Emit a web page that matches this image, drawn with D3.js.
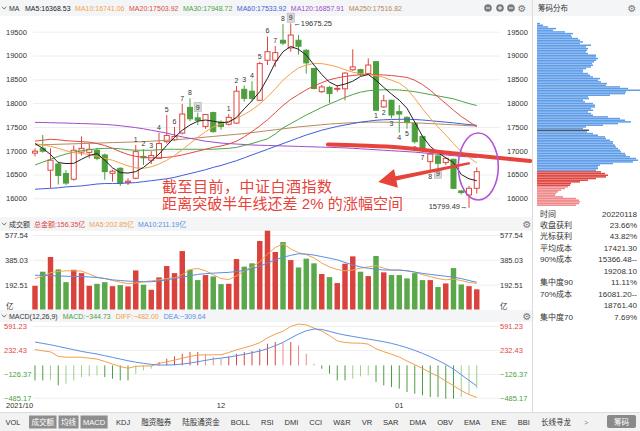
<!DOCTYPE html>
<html>
<head>
<meta charset="utf-8">
<script src="https://cdn.jsdelivr.net/npm/d3@7"></script>
<style>
  body { margin: 0; background: #fff; }
  svg { display: block; font-family: "Liberation Sans", Arial, "Noto Sans CJK SC", sans-serif; }
</style>
</head>
<body>
<script>
// trading days on screen
var dates = ["2021-10-28","2021-10-29","2021-11-01","2021-11-02","2021-11-03","2021-11-04","2021-11-05","2021-11-08","2021-11-09","2021-11-10",
  "2021-11-11","2021-11-12","2021-11-15","2021-11-16","2021-11-17","2021-11-18","2021-11-19","2021-11-22","2021-11-23","2021-11-24",
  "2021-11-25","2021-11-26","2021-11-29","2021-11-30","2021-12-01","2021-12-02","2021-12-03","2021-12-06","2021-12-07","2021-12-08",
  "2021-12-09","2021-12-10","2021-12-13","2021-12-14","2021-12-15","2021-12-16","2021-12-17","2021-12-20","2021-12-21","2021-12-22",
  "2021-12-23","2021-12-24","2021-12-27","2021-12-28","2021-12-29","2021-12-30","2021-12-31","2022-01-04","2022-01-05","2022-01-06",
  "2022-01-07","2022-01-10","2022-01-11","2022-01-12","2022-01-13","2022-01-14","2022-01-17","2022-01-18"];

// daily candles
var open = [16950,17050,16590,16720,16520,16400,16970,16965,17010,16910, 16525,16630,16335,16420,16880,16800,16840,17190,17230,17370,
  17910,17690,17510,17800,17600,17555,17580,18290,18250,18060, 18900,18900,19320,19160,19320,19110,18727,18240,18330,18290,
  18300,18700,18705,18620,18870,17920,18060,17820,17700,17570, 17300,16770,16890,16750,16820,16155,16070,16210];
var high = [17050,17330,17050,16770,16590,17110,17300,17150,17060,16940, 16600,16650,16420,17120,17030,16990,17380,17750,17500,17980,
  18100,17800,17770,17820,17640,17770,18360,18370,18460,18870, 19400,19200,19660,19675.25,19430,19130,18740,18380,18360,18380,
  18650,19130,18720,18940,18880,18170,18070,17960,17720,17600, 17320,16980,16900,16870,16830,16170,16260,16650];
var low = [16880,16960,16220,16290,16280,16370,16900,16840,16800,16390, 16350,16260,16280,16400,16700,16720,16830,17150,17200,17340,
  17620,17540,17460,17380,17440,17530,17560,18030,18030,18040, 18800,18760,19220,19080,19020,18620,18290,18210,18000,18240,
  18060,18680,18570,18600,17840,17900,17680,17380,17460,17150, 16960,16560,16620,16700,16190,16080,15799.49,16100];
var close = [16990,16990,16800,16480,16320,17010,17050,17030,16840,16560, 16570,16315,16360,16980,16850,16900,17150,17320,17300,17770,
  17670,17640,17760,17400,17510,17700,18250,18100,18100,18830, 19080,19060,19260,19430,19195,18845,18307,18340,18200,18310,
  18630,18760,18610,18800,17850,18050,17750,17770,17590,17190, 17050,16930,16735,16840,16210,16120,16210,16560];

// moving averages
var ma5 = [17150,17050,16920,16750,16730,16735,16820,16900,16940,16800, 16640,16540,16530,16560,16650,16780,16930,17110,17280,17430,
  17540,17620,17645,17620,17590,17600,17700,17880,18050,18240, 18520,18850,19080,19190,19130,19010,18800,18600,18440,18360,
  18400,18460,18560,18600,18480,18330,18190,18060,17890,17600, 17300,17090,16960,16850,16750,16500,16410,16368.53];
var ma10 = [17150,17120,17090,17050,17000,16960,16940,16920,16880,16840, 16800,16740,16680,16640,16630,16660,16720,16800,16900,17020,
  17150,17280,17400,17500,17560,17620,17680,17760,17860,17980, 18130,18300,18480,18620,18740,18800,18830,18830,18800,18760,
  18700,18650,18620,18600,18580,18540,18480,18420,18300,18100, 17880,17680,17500,17330,17150,16980,16860,16741.06];
var ma20 = [17200,17220,17240,17230,17210,17200,17190,17180,17150,17110, 17050,16980,16920,16880,16860,16850,16850,16860,16880,16910,
  16950,16990,17030,17070,17100,17140,17200,17290,17400,17520, 17650,17800,17950,18080,18180,18280,18360,18430,18490,18530,
  18560,18580,18595,18600,18600,18590,18580,18560,18540,18480, 18390,18270,18130,17990,17850,17720,17610,17503.92];
var ma30 = [16700,16760,16820,16880,16930,16970,17000,17020,17040,17050, 17050,17040,17020,17010,17010,17010,17020,17030,17030,17030,
  17030,17030,17030,17030,17040,17050,17070,17110,17150,17200, 17250,17350,17480,17570,17660,17750,17830,17910,17980,18050,
  18120,18180,18230,18260,18275,18280,18280,18275,18260,18240, 18210,18180,18150,18120,18090,18040,17990,17948.72];
var ma60 = [16190,16200,16210,16220,16240,16250,16260,16280,16300,16310, 16310,16315,16320,16330,16350,16370,16390,16410,16440,16480,
  16520,16560,16600,16650,16690,16740,16790,16850,16910,16970, 17030,17090,17150,17210,17270,17330,17380,17430,17470,17510,
  17540,17570,17600,17620,17640,17650,17655,17660,17660,17655, 17645,17630,17615,17600,17585,17565,17550,17533.92];
var ma120 = [17595,17592,17588,17584,17580,17575,17570,17565,17560,17552, 17540,17525,17505,17485,17460,17430,17400,17370,17330,17290,
  17260,17230,17200,17180,17160,17150,17140,17130,17120,17115, 17110,17105,17100,17095,17090,17085,17080,17075,17070,17065,
  17060,17050,17040,17030,17020,17010,17000,16990,16980,16970, 16955,16940,16925,16910,16895,16880,16870,16857.91];
var ma250 = [17120,17125,17130,17135,17140,17145,17150,17155,17160,17165, 17170,17175,17180,17185,17190,17200,17210,17220,17230,17240,
  17255,17270,17285,17300,17315,17330,17345,17360,17380,17400, 17420,17440,17460,17480,17500,17515,17530,17545,17560,17570,
  17580,17590,17595,17600,17600,17600,17598,17595,17590,17585, 17578,17570,17562,17553,17545,17535,17525,17516.82];

// turnover (亿)
var amount = [184,293,407,311,212,308,282,184,199,212, 181,189,179,303,192,153,249,337,282,453,
  308,228,267,256,197,199,391,332,358,531, 611,446,523,383,326,394,358,275,251,205,
  355,412,293,259,415,288,267,267,241,282, 228,228,174,202,321,194,181,156.35];
var amountMa5 = [240,260,285,295,300,300,298,275,250,240, 225,212,200,205,215,222,230,240,245,270,
  310,318,300,270,240,232,260,300,330,370, 430,480,510,470,440,425,400,360,330,310,
  300,306,320,330,340,320,305,305,300,290, 270,255,240,230,235,225,210,202.85];
var amountMa10 = [265,265,262,260,258,256,255,252,248,240, 230,225,220,218,215,215,220,230,240,250,
  262,272,278,282,285,288,295,302,315,335, 360,385,405,420,432,430,422,410,398,385,
  365,345,330,320,312,306,306,306,300,290, 280,272,265,258,250,240,225,211.19];

// MACD(12,26,9)
var macd = [-225,-225,-215,-300,-275,-225,-175,-165,-150,-175, -200,-225,-225,-125,-75,-50,50,100,135,175,
  200,200,165,125,100,135,175,200,215,250, 325,350,335,350,300,175,25,-50,-125,-225,
  -225,-200,-165,-150,-250,-300,-325,-350,-400,-425, -450,-475,-475,-500,-500,-475,-425,-344.73];
var diff = [238,218,203,135,123,123,123,108,95,58, 20,-18,-43,-15,-8,-10,30,55,78,108,
  135,155,158,158,160,193,233,265,298,340, 413,470,512,585,620,608,558,515,448,368,
  343,335,333,320,250,205,168,125,65,12, -45,-108,-163,-235,-305,-378,-438,-482.00];
var dea = [350,330,310,285,260,235,210,190,170,145, 120,95,70,48,30,15,5,5,10,20,
  35,55,75,95,110,125,145,165,190,215, 250,295,345,410,470,520,545,540,510,480,
  455,435,415,395,375,355,330,300,265,225, 180,130,75,15,-55,-140,-225,-309.64];

// TD sequential counts (above highs / below lows)
var tdUp = [0,0,0,0,0,0,0,0,0,0, 0,0,0,1,2,3,4,5,6,7, 8,9,0,0,0,1,2,3,4,5, 6,7,8,9,0,0,0,0,0,0,
  0,0,0,0,0,0,0,0,0,0, 0,0,0,0,0,0,0,0];
var tdDown = [0,0,0,0,0,0,0,0,0,0, 0,0,0,0,0,0,0,0,0,0, 0,0,0,0,0,0,0,0,0,0, 0,0,0,0,0,0,0,0,0,0,
  0,0,0,0,1,2,3,4,5,6, 7,8,9,0,0,0,0,0];

// ticks
var priceTicks = [16000,16500,17000,17500,18000,18500,19000,19500];
var amountTicks = [192.51,385.03,577.54];
var macdTicks = [591.23,232.43,-126.37,-485.17];
var dateTicks = ["2021-10-28","2021-12-01","2022-01-04"];
var dateTickText = ["2021/10","12","01"];

// chip distribution: one row per 35 points from 19670 down
var chipTop = 19670, chipStep = 35;
var chips = [3,6,11,19,16,28,36,34,35,41, 43,46,43,54,49,51,50,49,51,59, 59,61,59,57,55,56,54,49,46,46,
  51,53,56,63,61,64,70,69,83,91, 103,89,88,73,51,52,46,48,56,58, 58,54,56,51,54,56,71,83,88,94,
  81,66,49,46,52,50,56,61,68,69, 73,76,76,78,79,81,83,84,88,89, 93,99,101,96,76,63,61,61,59,64,
  68,71,69,59,51,43,34,33,31,28, 24,21,19,18,26,39,42,43,42,39];
var avgCost = 17421.30;
var infoNames = ["时间","收盘获利","光标获利","平均成本","90%成本","","集中度90","70%成本","","集中度70"];
var infoValues = ["20220118","23.66%","43.82%","17421.30","15366.48--","19208.10","11.11%","16081.20--","18761.40","7.69%"];

var toolbarItems = ["VOL","成交额","均线","MACD","KDJ","融资融券","陆股通资金","BOLL","RSI","DMI","CCI","W&R","VR","SAR","DMA","OBV","EMA","ENE","BBI"];
var toolbarOn = ["成交额","均线","MACD"];

// ---------------------------------------------------------------
var W = 640, H = 431;
var plotL = 33, plotR = 500, panelR = 532;
var upColor = "#e0463f", downColor = "#4d9f3e", ink = "#333";

var svg = d3.select("body").append("svg").attr("width", W).attr("height", H);
svg.append("rect").attr("width", W).attr("height", H).attr("fill", "#fff");

// header strips
svg.append("rect").attr("x", 0).attr("y", 0).attr("width", W).attr("height", 16).attr("fill", "#f4f5f7");
svg.append("rect").attr("x", 0).attr("y", 217).attr("width", panelR).attr("height", 14).attr("fill", "#f4f5f7");
svg.append("rect").attr("x", 0).attr("y", 310).attr("width", panelR).attr("height", 12).attr("fill", "#f4f5f7");
svg.append("rect").attr("x", 0).attr("y", 412).attr("width", W).attr("height", 19).attr("fill", "#f2f2f2");
svg.append("line").attr("x1", 0).attr("x2", W).attr("y1", 412.5).attr("y2", 412.5).attr("stroke", "#dcdcdc");
svg.append("line").attr("x1", panelR + 0.5).attr("x2", panelR + 0.5).attr("y1", 0).attr("y2", 412).attr("stroke", "#dcdcdc");

// scales
var x = d3.scaleBand().domain(dates).range([31.125, 480.625]).paddingInner(0.22).paddingOuter(0.11);
var step = x.step();
function cx(d) { return x(d) + x.bandwidth() / 2; }
function xi(i) { return cx(dates[0]) + i * step; }
var yP = d3.scaleLinear().domain([16000, 19500]).range([198.3, 31.7]);
var yV = d3.scaleLinear().domain([0, 577.54]).range([309.5, 235]);
var yM = d3.scaleLinear().domain([-485.17, 591.23]).range([397.7, 326]);

// gridlines
function grid(scale, ticks) {
  var g = svg.append("g").attr("transform", "translate(" + plotL + ",0)")
    .call(d3.axisRight(scale).tickValues(ticks).tickSize(plotR - plotL).tickFormat(""));
  g.select(".domain").remove();
  g.selectAll("line").attr("stroke", "#eeeeee");
}
grid(yP, priceTicks);
grid(yV, amountTicks);
grid(yM, macdTicks);

// axis labels
function labels(scale, ticks, xpos, fmt, color) {
  var g = svg.append("g").attr("transform", "translate(" + xpos + ",0)")
    .call(d3.axisRight(scale).tickValues(ticks).tickSize(0).tickPadding(0).tickFormat(fmt));
  g.attr("font-family", null).attr("font-size", null);
  g.select(".domain").remove();
  g.selectAll("text").attr("font-size", 7.5).attr("fill", color);
}
labels(yP, priceTicks, 6, d3.format("d"), ink);
labels(yP, priceTicks, 507, d3.format("d"), ink);
labels(yV, amountTicks, 5, d3.format(".2f"), ink);
labels(yV, amountTicks, 500, d3.format(".2f"), ink);
labels(yM, macdTicks, 4, d3.format(".2f"), function(d) { return d > 0 ? upColor : downColor; });
labels(yM, macdTicks, 500, d3.format(".2f"), function(d) { return d > 0 ? upColor : downColor; });
svg.append("text").attr("x", 6).attr("y", 306).attr("font-size", 7.5).attr("fill", ink).attr("dominant-baseline", "central").text("亿");
svg.append("text").attr("x", 500).attr("y", 306).attr("font-size", 7.5).attr("fill", ink).attr("dominant-baseline", "central").text("亿");

// date axis
var xa = svg.append("g").attr("transform", "translate(0,403)")
  .call(d3.axisBottom(x).tickValues(dateTicks).tickSize(0).tickPadding(0)
    .tickFormat(function(d) { return dateTickText[dateTicks.indexOf(d)]; }));
xa.attr("font-family", null).attr("font-size", null);
xa.select(".domain").remove();
xa.selectAll("text").attr("font-size", 7.5).attr("fill", ink).attr("dy", "0.71em");
xa.selectAll("text").filter(function(d, k) { return k === 0; })
  .attr("text-anchor", "start").attr("x", 6 - cx(dates[0]));

var idx = d3.range(dates.length);
function isUp(i) { return close[i] >= open[i]; }

// moving average lines
var maSeries = [
  { name: "MA5", values: ma5, color: "#222222" },
  { name: "MA10", values: ma10, color: "#f3a247" },
  { name: "MA20", values: ma20, color: "#e24a43" },
  { name: "MA30", values: ma30, color: "#4ea445" },
  { name: "MA60", values: ma60, color: "#3d5fd9" },
  { name: "MA120", values: ma120, color: "#a04dc8" },
  { name: "MA250", values: ma250, color: "#b58a5c" }
];

// candles
var cg = svg.append("g");
cg.selectAll("line").data(idx).join("line")
  .attr("x1", function(i) { return cx(dates[i]); })
  .attr("x2", function(i) { return cx(dates[i]); })
  .attr("y1", function(i) { return yP(high[i]); })
  .attr("y2", function(i) { return yP(low[i]); })
  .attr("stroke", function(i) { return isUp(i) ? upColor : downColor; });
cg.selectAll("rect").data(idx).join("rect")
  .attr("x", function(i) { return x(dates[i]) + 0.5; })
  .attr("width", x.bandwidth() - 1)
  .attr("y", function(i) { return yP(Math.max(open[i], close[i])); })
  .attr("height", function(i) { return Math.max(0.8, Math.abs(yP(open[i]) - yP(close[i]))); })
  .attr("fill", function(i) { return isUp(i) ? "#fff" : downColor; })
  .attr("stroke", function(i) { return isUp(i) ? upColor : downColor; });

maSeries.slice().reverse().forEach(function(s) {
  svg.append("path").attr("fill", "none").attr("stroke", s.color).attr("stroke-width", 1)
    .attr("d", d3.line().x(function(v, i) { return cx(dates[i]); }).y(function(v) { return yP(v); })(s.values));
});

// TD counts
var td = svg.append("g").attr("font-size", 7).attr("fill", ink).attr("text-anchor", "middle");
function tdLabel(i, n, yc) {
  if (n === 9) {
    td.append("rect").attr("x", cx(dates[i]) - 3.6).attr("y", yc - 4.6).attr("width", 7.2).attr("height", 9.2)
      .attr("fill", "#d6d6d6").attr("stroke", "#aaa").attr("stroke-width", 0.5);
  }
  td.append("text").attr("x", cx(dates[i])).attr("y", yc).attr("dominant-baseline", "central").text(n);
}
idx.forEach(function(i) {
  if (tdUp[i]) tdLabel(i, tdUp[i], yP(high[i]) - 5.6);
  if (tdDown[i]) tdLabel(i, tdDown[i], yP(low[i]) + 5);
});

// extremes
var iMax = d3.maxIndex(high), iMin = d3.minIndex(low);
svg.append("text").attr("x", cx(dates[iMax]) + 2.5).attr("y", yP(high[iMax]))
  .attr("font-size", 7.5).attr("fill", ink).attr("dominant-baseline", "central")
  .text("←" + d3.format(".2f")(high[iMax]));
svg.append("text").attr("x", cx(dates[iMin]) - 1.5).attr("y", yP(low[iMin]) - 1)
  .attr("font-size", 7.5).attr("fill", ink).attr("dominant-baseline", "central").attr("text-anchor", "end")
  .text(d3.format(".2f")(low[iMin]) + "→");

// turnover bars
svg.append("g").selectAll("rect").data(idx).join("rect")
  .attr("x", function(i) { return x(dates[i]) + 0.3; })
  .attr("width", x.bandwidth() - 0.6)
  .attr("y", function(i) { return yV(amount[i]); })
  .attr("height", function(i) { return yV(0) - yV(amount[i]); })
  .attr("fill", function(i) { return isUp(i) ? "#da433d" : "#5aa84b"; });
[[amountMa5, "#f3a24e"], [amountMa10, "#5b8fe0"]].forEach(function(p) {
  svg.append("path").attr("fill", "none").attr("stroke", p[1]).attr("stroke-width", 1)
    .attr("d", d3.line().x(function(v, i) { return cx(dates[i]); }).y(function(v) { return yV(v); })(p[0]));
});

// MACD
svg.append("g").selectAll("line").data(idx).join("line")
  .attr("x1", function(i) { return cx(dates[i]); })
  .attr("x2", function(i) { return cx(dates[i]); })
  .attr("y1", yM(0))
  .attr("y2", function(i) { return yM(macd[i]); })
  .attr("stroke", function(i) {
    var shrink = i > 0 && Math.abs(macd[i]) < Math.abs(macd[i - 1]);
    if (macd[i] >= 0) return shrink ? "#e98c88" : "#d9443e";
    return shrink ? "#9ccf90" : "#4f9c42";
  });
[[diff, "#f1a04b"], [dea, "#5d8fe3"]].forEach(function(p) {
  svg.append("path").attr("fill", "none").attr("stroke", p[1]).attr("stroke-width", 1)
    .attr("d", d3.line().x(function(v, i) { return cx(dates[i]); }).y(function(v) { return yM(v); })(p[0]));
});

// chip distribution
var xChip = d3.scaleLinear().domain([0, 103]).range([537, 640]);
var avgRow = Math.round((chipTop - avgCost) / chipStep);
svg.append("g").selectAll("rect").data(chips).join("rect")
  .attr("x", xChip(0))
  .attr("y", function(d, i) { return yP(chipTop - i * chipStep) - 0.75; })
  .attr("width", function(d) { return xChip(d) - xChip(0); })
  .attr("height", 1.5)
  .attr("fill", function(d, i) {
    var p = chipTop - i * chipStep;
    if (i === avgRow) return "#4e5866";
    if (p > close[close.length - 1]) return "#5f9de8";
    return p >= 16250 ? "#e0443e" : "#f0888a";
  });

// chip summary
var info = svg.append("g").attr("font-size", 8).attr("fill", ink);
infoNames.forEach(function(n, k) {
  var yy = 214 + k * 11.45;
  info.append("text").attr("x", 540).attr("y", yy).attr("dominant-baseline", "central").text(n);
  info.append("text").attr("x", 637).attr("y", yy).attr("dominant-baseline", "central").attr("text-anchor", "end").text(infoValues[k]);
});

// header rows
function row(items, x0, y, size, gap) {
  var xx = x0;
  items.forEach(function(it) {
    var t = svg.append("text").attr("x", xx).attr("y", y).attr("font-size", size)
      .attr("fill", it.color).attr("dominant-baseline", "central").text(it.text);
    xx += t.node().getComputedTextLength() + gap;
  });
}
function chevron(x0, y0) {
  svg.append("path").attr("d", "M" + x0 + "," + (y0 - 1.3) + "l2.2,2.4l2.2,-2.4")
    .attr("fill", "none").attr("stroke", "#666").attr("stroke-width", 0.9);
}
function gear(x0, y0) {
  svg.append("text").attr("x", x0).attr("y", y0).attr("font-size", 10).attr("fill", "#777")
    .attr("font-family", "DejaVu Sans").attr("text-anchor", "middle").attr("dominant-baseline", "central").text("⚙");
}
var f2 = d3.format(".2f");
var last = dates.length - 1;
chevron(2, 8);
row([{ text: "MA", color: ink }], 9, 8, 7, 0);
row(maSeries.map(function(s) { return { text: s.name + ":" + f2(s.values[last]), color: s.color }; }), 25, 8, 7, 4.5);

chevron(2, 224);
row([{ text: "成交额", color: ink },
     { text: "总金额:" + f2(amount[last]) + "亿", color: upColor },
     { text: "MA5:" + f2(amountMa5[last]) + "亿", color: "#f3a24e" },
     { text: "MA10:" + f2(amountMa10[last]) + "亿", color: "#5b8fe0" }], 9, 224, 7, 4);

chevron(2, 316);
row([{ text: "MACD(12,26,9)", color: ink },
     { text: "MACD:" + f2(macd[last]), color: downColor },
     { text: "DIFF:" + f2(diff[last]), color: "#f1a04b" },
     { text: "DEA:" + f2(dea[last]), color: "#5d8fe3" }], 9, 316, 7, 5);

// header icons
[488, 500, 511].forEach(function(xx, k) {
  svg.append("circle").attr("cx", xx).attr("cy", 8).attr("r", 3.8).attr("fill", "#7b7b7b");
  svg.append("line").attr("x1", xx - 2).attr("x2", xx + 2).attr("y1", 8).attr("y2", 8).attr("stroke", "#fff").attr("stroke-width", 1);
  if (k === 1) svg.append("line").attr("x1", xx).attr("x2", xx).attr("y1", 6).attr("y2", 10).attr("stroke", "#fff").attr("stroke-width", 1);
});
gear(522, 8);
gear(632, 8);
gear(527, 224);
gear(527, 316);
svg.append("text").attr("x", 538).attr("y", 8).attr("font-size", 7.5).attr("fill", ink)
  .attr("dominant-baseline", "central").text("筹码分布");

// toolbar
var xx = 5.5;
toolbarItems.forEach(function(name, k) {
  var on = toolbarOn.indexOf(name) >= 0;
  var t = svg.append("text").attr("x", xx).attr("y", 422).attr("font-size", 7.5)
    .attr("dominant-baseline", "central").attr("fill", on ? "#fff" : ink).text(name);
  var w = t.node().getComputedTextLength();
  if (on) {
    svg.insert("rect", function() { return t.node(); })
      .attr("x", xx - 2.5).attr("y", 415.5).attr("width", w + 5).attr("height", 13).attr("fill", "#8e8e8e");
  }
  var nextOn = k + 1 < toolbarItems.length && toolbarOn.indexOf(toolbarItems[k + 1]) >= 0;
  xx += w + (on && nextOn ? 7 : 11);
});
svg.append("text").attr("x", 541).attr("y", 422).attr("font-size", 7.5).attr("fill", ink)
  .attr("dominant-baseline", "central").text("长线寻龙");
svg.append("text").attr("x", 584).attr("y", 422).attr("font-size", 7.5).attr("fill", "#888")
  .attr("dominant-baseline", "central").text(">");
svg.append("rect").attr("x", 607).attr("y", 415).attr("width", 29).attr("height", 13).attr("rx", 2).attr("fill", "#8a8a8a");
svg.append("text").attr("x", 621.5).attr("y", 422).attr("font-size", 7.5).attr("fill", "#fff")
  .attr("text-anchor", "middle").attr("dominant-baseline", "central").text("筹码");

// annotations
var note = "#e6433a";
var halfYear = [[37.8, 17130], [41.9, 17109], [47.1, 17067], [52.3, 16972], [56.1, 16909], [60, 16845], [63.9, 16782]];
svg.append("path").attr("fill", "none").attr("stroke", note).attr("stroke-width", 4).attr("stroke-linecap", "round")
  .attr("d", d3.line().curve(d3.curveCatmullRom).x(function(p) { return xi(p[0]); }).y(function(p) { return yP(p[1]); })(halfYear));

svg.append("ellipse").attr("cx", xi(57.2)).attr("cy", yP(16667)).attr("rx", 20).attr("ry", 33.5)
  .attr("fill", "none").attr("stroke", "#b455d8").attr("stroke-width", 1.6);

var a0 = [xi(56.1), yP(16740)], a1 = [xi(44.3), yP(16342)];
var dx = a1[0] - a0[0], dy = a1[1] - a0[1], len = Math.hypot(dx, dy);
var ux = dx / len, uy = dy / len, nx = -uy, ny = ux;
var headLen = 18, headW = 9.5;
var base = [a1[0] - ux * headLen, a1[1] - uy * headLen];
svg.append("path").attr("fill", note)
  .attr("d", "M" + (a0[0] + nx * 1.2) + "," + (a0[1] + ny * 1.2) +
    "L" + (base[0] + nx * 2.2) + "," + (base[1] + ny * 2.2) +
    "L" + (base[0] + nx * headW) + "," + (base[1] + ny * headW) +
    "L" + a1[0] + "," + a1[1] +
    "L" + (base[0] - nx * headW) + "," + (base[1] - ny * headW) +
    "L" + (base[0] - nx * 2.2) + "," + (base[1] - ny * 2.2) +
    "L" + (a0[0] - nx * 1.2) + "," + (a0[1] - ny * 1.2) + "Z");

// two-line caption
var ty = yP(16125), tx = xi(16.4);
var cap = svg.append("text").attr("font-size", 15).attr("fill", note)
  .attr("font-family", "\"Liberation Sans\", \"Noto Sans CJK SC\", sans-serif");
cap.append("tspan").attr("x", tx).attr("y", ty).attr("textLength", 170).text("截至目前，中证白酒指数");
cap.append("tspan").attr("x", tx).attr("y", ty + 17).attr("textLength", 241).text("距离突破半年线还差 2% 的涨幅空间");
</script>
</body>
</html>
